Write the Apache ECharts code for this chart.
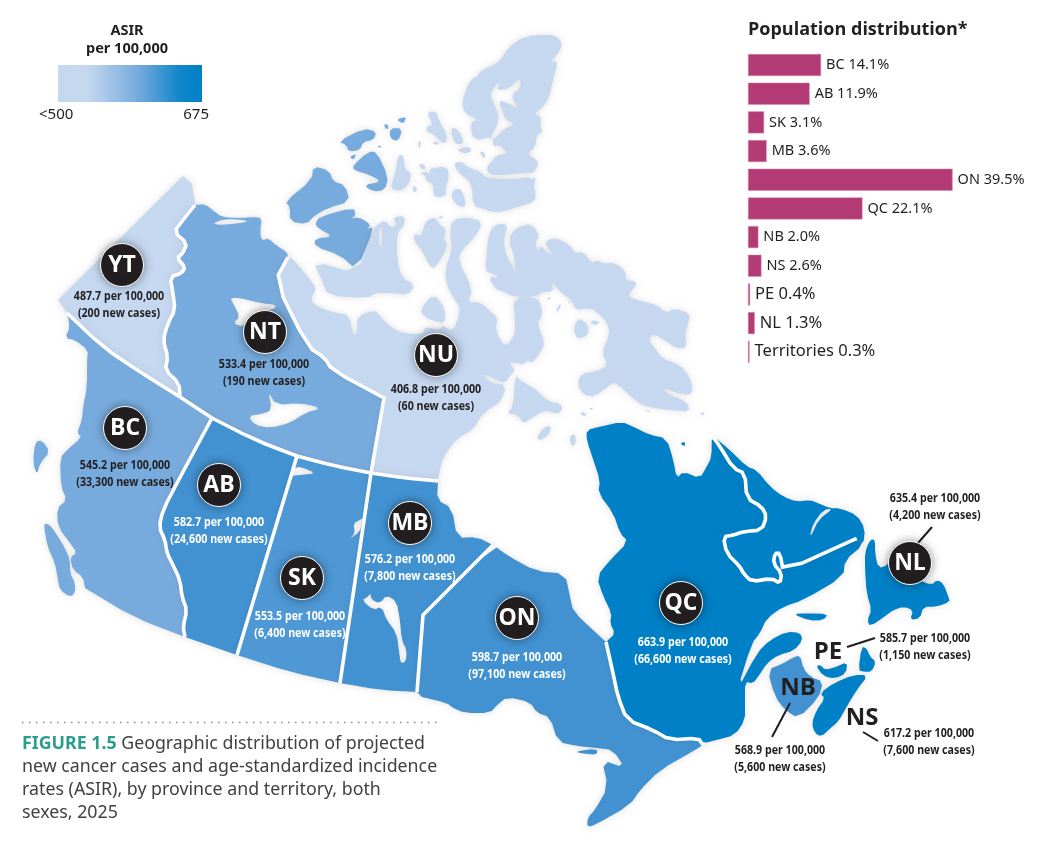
<!DOCTYPE html>
<html>
<head>
<meta charset="utf-8">
<title>Figure 1.5</title>
<style>html,body{margin:0;background:#fff}#chart{width:1046px;height:843px}</style>
<script src="https://cdn.jsdelivr.net/npm/echarts@6/dist/echarts.min.js"></script>
</head>
<body>
<div id="chart"></div>
<script>
// ── data ──
const provinces = ['YT','NT','NU','BC','AB','SK','MB','ON','QC','NB','NS','PE','NL'];
const asir = [487.7,533.4,406.8,545.2,582.7,553.5,576.2,598.7,663.9,568.9,617.2,585.7,635.4];
const newCases = ['200','190','60','33,300','24,600','6,400','7,800','97,100','66,600','5,600','7,600','1,150','4,200'];
const popNames = ['BC','AB','SK','MB','ON','QC','NB','NS','PE','NL','Territories'];
const popShare = [14.1,11.9,3.1,3.6,39.5,22.1,2.0,2.6,0.4,1.3,0.3];

// ── layout of the labels on the map (page pixels) ──
const badgeAt = {YT:[122,265],NT:[265,332],NU:[436,355],BC:[125,428],AB:[219,485],SK:[302,578],MB:[410,523],ON:[517,618],QC:[681,603],NL:[910,563]};
const plainAt = {PE:[828,652],NB:[798,688],NS:[862,718]};
const noteAt = {YT:[119,305],NT:[264,373],NU:[436,398],BC:[125,474],AB:[219,531],SK:[300,625],MB:[410,568],ON:[517,666],QC:[683,651],NB:[780,759],NS:[929,742],PE:[925,647],NL:[935,507]};
const whiteNotes = ['AB','SK','MB','ON','QC'];
const leaders = [[[932,527],[918,543]],[[875,638],[847,647]],[[790,703],[772,737]],[[863,732],[878,741]]];

// ── outline tracing: lists are page pixels, or 3x crop coordinates with an origin ──
function z(x0, y0, flat) {
    const out = [];
    for (let i = 0; i < flat.length; i += 2) out.push([x0 + flat[i] / 3, y0 + flat[i + 1] / 3]);
    return out;
}
const rev = a => a.slice().reverse();

const arc60 = [[67,313],[103,347],[137,370],[180,397],[212,418],[255,440],[297,456],[335,466],[371,473],[405,478],[438,481]];
const arc49 = [[85,588],[133,617],[185,637],[237,655],[290,672],[340,683],[380,690],[417,692]];
const ytNt = [[195,205],[183,220],[174,232],[187,243],[183,253],[177,258],[185,267],[182,273],[170,277],[173,293],[175,310],[168,323],[163,340],[168,357],[165,370],[179,383],[180,397]];
const ntNu = [[288,257],[275,281],[308,347],[325,358],[332,370],[384,398],[371,473]];
const bcAb = [[212,418],[177,483],[163,510],[159,527],[165,540],[167,553],[172,563],[180,580],[182,597],[187,610],[183,627],[185,637]];
const abSk = [[297,456],[237,655]];
const skMb = [[371,473],[340,683]];
const mbOn = [[493,545],[423,615],[417,692]];
const onQc = [[606,642],[613,673],[618,697],[627,720],[653,730],[670,740],[698,738],[703,745]];
const qcNl = z(570,410,[425,75,450,110,490,175,525,190,530,265,575,290,590,320,575,360,520,365,490,375,460,380,470,430,510,470,520,490,545,515,605,505,630,520,635,490,610,460,615,430,630,430,640,485,860,385,880,405]);

// junctions and tips that must stay sharp when outlines are softened
const hardPoints = new Set([[67,313],[180,397],[212,418],[297,456],[371,473],[438,481],[85,588],[185,637],[237,655],[340,683],[417,692],[422,697],[493,545],[606,642],[703,745],[288,257],[195,205],[183,176],[192,184],[58,300],[384,398],[423,615]].map(String));

const shapes = {
    YT: [[[[183,176],[192,184]].concat(ytNt, rev(arc60.slice(0,4)), [[58,300]])]],
    NT: [
        [[[288,257],[287,252],[277,246],[268,238],[262,241],[260,232],[262,218],[254,217],[240,218],[222,217],[215,212],[205,204]].concat(ytNt, arc60.slice(4,9), rev(ntNu).slice(1)),
            [[230,298],[240,298],[260,303],[277,305],[273,310],[260,310],[253,317],[243,327],[233,323],[240,317],[233,303]],
            [[268,391],[276,405],[300,403],[322,408],[305,413],[290,423],[270,428],[255,425],[248,416],[262,414],[272,410]],
            [[213,223],[225,219],[245,220],[248,222],[232,224],[218,225]]],
        [z(270,20,[130,438,178,452,190,485,225,495,240,545,170,565,130,590,110,612,60,605,60,560,45,545,125,480])],
        [z(270,20,[150,590,250,562,258,585,240,600,265,590,305,615,285,630,315,620,260,750,210,705,135,680,135,655,190,650,145,625,135,610])],
        [z(270,20,[205,365,280,325,320,335,310,360,280,365,270,390,235,395,230,375])],
        [z(270,20,[250,435,295,395,320,395,355,470,345,510,310,515,280,495,335,485,300,465,250,450])],
        [z(270,20,[238,410,265,400,250,420])],
        [z(270,20,[360,325,398,325,385,365,360,355])],
        [z(270,20,[378,298,410,290,400,312])],
        [z(270,20,[342,310,355,315,355,330,345,325])],
        [z(270,20,[320,376,337,378,330,385])]
    ],
    NU: [
        [z(260,230,[85,75,115,105,150,150,170,175,150,210,175,232,230,250,268,255,280,320,292,305,292,258,345,240,360,258,385,285,415,305,455,312,490,312,495,290,540,300,548,285,578,305,595,265,600,230,578,200,560,165]).concat(
            [[445,270],[452,250],[450,233],[452,220],[468,217],[483,222],[475,237],[462,250],[458,260],[473,290],[467,303],[480,302],[490,311],[498,318],[495,330],[505,348],[515,335],[515,320],[513,298],[537,297],[542,308],[542,317],[537,323],[545,343],[540,353],[532,363],[527,360],[523,365],[515,362],[509,363],[515,370],[512,373],[505,383],[497,380],[482,373],[490,383],[507,385],[500,403],[490,408],[480,417],[473,430],[457,438],[443,457],[438,478]],
            rev(arc60.slice(8,11)), rev(ntNu).slice(1,6))],
        // Victoria Island, east part
        [[[313,261],[358,274],[372,231],[377,225],[385,220],[391,228],[397,225],[393,217],[405,216],[404,226],[397,232],[397,260],[402,278],[415,285],[408,295],[392,293],[375,293],[368,298],[328,296],[322,280]],
            [[379,228],[382,228],[382,247],[379,247]]],
        [z(260,230,[480,240,520,190,555,235,555,280,530,275,495,262])],
        [z(480,220,[105,465,120,480,135,490,170,510,205,545,240,550,248,570,230,583,195,570,160,590,130,612,115,585,80,580,100,560])],
        [z(480,220,[40,15,85,10,70,60,80,110,100,140,105,165,105,115,85,60,105,25,155,10,180,50,165,65,175,100,180,75,205,100,220,105,200,80,195,65,225,52,270,75,285,100,310,95,335,130,355,120,365,130,410,130,440,160,435,180,470,185,465,200,440,230,490,245,530,255,560,280,580,265,630,280,625,310,615,340,620,385,590,385,560,365,520,340,505,360,525,385,545,415,600,435,630,470,640,520,610,525,540,500,570,525,620,545,630,575,570,570,500,560,470,545,410,490,395,490,345,530,310,525,292,490,305,460,350,455,385,435,365,400,390,340,380,305,345,270,320,265,300,270,285,265,275,240,245,220,225,195,215,190,220,215,190,215,165,230,100,230,70,215,45,205,25,170,60,175,40,160,15,155,20,100,25,50])],
        [z(480,220,[170,650,195,620,215,618,205,645,180,662])],
        [z(480,220,[268,650,285,640,288,670,275,682])],
        [z(480,220,[300,575,320,580,315,590,305,585])],
        [z(480,220,[325,560,342,565,335,572])],
        [z(480,220,[495,570,515,572,505,578])],
        [z(480,220,[655,580,670,575,673,587])],
        [z(480,220,[300,295,325,315,325,345,295,358,282,335,285,310])],
        [z(480,220,[335,300,360,305,350,315,332,312])],
        [z(480,220,[228,272,240,250,243,260,232,275])],
        [z(480,220,[198,235,215,230,210,240])],
        [z(480,220,[262,240,272,245,270,255])],
        // Ellesmere and the high Arctic
        [z(270,20,[760,50,840,42,872,58,875,88,838,130,865,120,848,185,835,240,810,270,792,280,815,292,810,320,820,335,800,345,795,385,770,400,800,420,805,435,790,460,770,458,700,465,660,465,648,445,665,425,680,405,715,402,690,375,670,380,668,350,610,362,600,310,625,298,585,282,575,245,600,180,622,170,632,152,690,125,712,85]),
            z(270,20,[680,190,690,190,680,212,720,205,750,172,752,205,722,225,745,268,715,250,685,240,700,280,705,298,735,312,705,325,670,360,660,355,690,300,672,250,660,225])],
        [z(270,20,[552,432,570,423,600,445,630,455,650,475,720,478,790,470,792,505,797,515,795,545,745,560,700,575,660,575,640,565,610,560,605,490,580,470,560,450])],
        [z(270,20,[470,275,500,275,505,300,530,340,530,370,510,365,495,345,470,335,470,320,490,315])],
        [z(270,20,[545,320,565,330,582,365,575,372,555,372,545,345])],
        [z(270,20,[565,385,600,380,605,395,585,400,565,395])],
        [z(270,20,[628,395,640,395,648,412,640,415])],
        [z(270,20,[445,365,453,362,450,385,445,385])],
        [z(270,20,[490,365,505,365,505,375,490,372])],
        [z(270,20,[548,510,575,505,590,560,565,560,545,535])],
        [z(270,20,[448,430,465,435,465,450,450,445])],
        [z(270,20,[480,445,500,445,510,440,535,445,535,480,525,510,530,525,505,533,490,525,490,490,470,485,465,465,445,458,470,455,480,465])],
        [z(270,20,[385,405,400,405,405,450,425,460,415,495,390,515,360,505,375,465])],
        [z(270,20,[428,498,440,500,440,515,428,515])],
        [z(270,20,[435,640,455,650,465,605,495,590,505,610,530,630,520,650,535,680,495,745,480,740,455,690,430,660])],
        [z(270,20,[500,590,520,587,515,597])],
        [z(270,20,[790,470,796,472,796,488,788,488])]
    ],
    BC: [
        [bcAb.concat(rev(arc49.slice(0,2)), [[83,577],[73,570],[70,557],[77,553],[70,543],[58,527],[57,508],[67,500],[61,487],[60,458],[67,450],[82,437],[77,433],[82,420],[83,407],[87,387],[87,360],[88,350],[75,340],[65,338],[70,327]], arc60.slice(0,4))],
        [[[35,442],[42,440],[50,452],[40,463],[37,475],[33,463]]],
        [[[44,523],[50,525],[57,535],[65,548],[70,560],[70,573],[75,583],[75,593],[70,597],[60,590],[58,580],[55,563],[48,548],[45,533]]]
    ],
    AB: [[arc60.slice(4,7).concat(abSk.slice(1), rev(bcAb).slice(0,-1))]],
    SK: [[arc60.slice(6,9).concat([[340,683]], rev(arc49.slice(3,5))),
        z(280,440,[250,232,240,240,220,250,225,280,207,298,240,275,245,250]),
        z(280,440,[30,100,40,85,60,80,110,100,60,105,35,108])]],
    MB: [[arc60.slice(8,11).concat([[437,500],[452,508],[457,538],[477,537]], mbOn, rev(arc49.slice(5,7))),
        z(280,440,[270,455,275,480,300,490,320,465,350,485,360,540,365,600,380,630,378,665,362,670,358,640,350,580,320,540,305,500,280,510,245,480,265,470])]],
    ON: [
        [z(280,440,[640,315,680,345,770,395,855,400,870,470,880,515,950,580]).concat(onQc,
            [[690,753],[660,770],[640,790],[630,805],[595,825],[587,827],[588,817],[595,810],[608,787],[602,760],[625,768],[613,750],[597,748],[577,746],[558,742],[550,717],[537,713],[530,702],[507,697],[497,705],[490,713],[465,713],[453,708],[447,703],[422,697]],
            rev(mbOn).slice(0,2))],
        [z(280,440,[885,935,950,925,952,945,905,940])]
    ],
    QC: [
        [z(570,410,[115,690,135,670,120,640,125,610,100,560,80,500,120,450,175,395,150,370,130,310,85,250,90,210,70,150,50,90,50,60,90,50,155,35,190,50,240,75,290,85,310,150,320,205,340,185,390,205,410,170,425,140]).concat(
            qcNl,
            z(570,410,[825,450,820,500,700,570,640,590,590,625,570,670,545,700,500,845,560,730,600,690,650,665,690,668,698,690,672,722,625,735,590,760,565,800,548,820,525,815,525,880,525,930,495,975,440,990,400,1000]),
            rev(onQc).slice(1)),
            z(570,410,[330,100,345,95,345,110])],
        [z(720,610,[218,12,260,10,325,12,310,30,270,32])]
    ],
    NB: [[z(720,610,[142,180,190,160,215,145,240,135,250,175,270,200,310,215,295,265,235,325,195,300,165,260])]],
    NS: [
        [z(720,610,[300,250,340,220,400,195,445,195,410,240,380,290,355,335,330,355,305,380,285,370,275,340,290,300,315,265])],
        [z(720,610,[415,180,425,110,440,115,450,140,468,155,455,185,430,185])]
    ],
    PE: [[z(720,610,[288,168,302,165,315,180,345,172,382,156,378,190,345,206,310,198])]],
    NL: [
        [rev(qcNl).slice(2).concat(z(570,410,[480,120,530,170,560,180,600,230,640,260,680,275,720,270,745,280,780,295,810,295,860,315,885,355,880,405]), [qcNl[qcNl.length - 2]]),
            z(570,410,[720,375,730,340,760,300,790,295,745,330,725,375]),
            z(570,410,[612,435,625,425,636,435,636,478,622,482,612,460])],
        [z(570,410,[885,425,900,390,915,388,915,430,925,475,955,465,965,430,1040,420,1045,510,1085,525,1100,510,1120,520,1135,560,1140,575,1100,590,1060,590,1050,625,1020,630,1030,600,1000,590,970,600,950,615,900,650,892,630,905,600,890,550,885,480])]
    ]
};

// one pass of corner cutting so the traced outlines read as coastline
function soften(r, closed) {
    const out = [];
    const n = r.length;
    for (let i = 0; i < n; i++) {
        const p = r[i];
        const isEnd = !closed && (i === 0 || i === n - 1);
        if (isEnd || hardPoints.has(String(p))) {
            out.push(p);
            continue;
        }
        const a = r[(i - 1 + n) % n], b = r[(i + 1) % n];
        out.push([p[0] * 0.75 + a[0] * 0.25, p[1] * 0.75 + a[1] * 0.25]);
        out.push([p[0] * 0.75 + b[0] * 0.25, p[1] * 0.75 + b[1] * 0.25]);
    }
    return out;
}

// ring direction matters for holes: outer one way, holes the other
function signedArea(r) {
    let s = 0;
    for (let i = 0; i < r.length; i++) {
        const a = r[i], b = r[(i + 1) % r.length];
        s += a[0] * b[1] - b[0] * a[1];
    }
    return s;
}
const flip = p => [p[0], -p[1]];
function ring(r, wantPositive) {
    const pts = (signedArea(r) > 0) === wantPositive ? r : rev(r);
    const closed = soften(pts, true).map(flip);
    closed.push(closed[0]);
    return closed;
}

const canada = {
    type: 'FeatureCollection',
    features: provinces.map(name => ({
        type: 'Feature',
        properties: { name: name },
        geometry: {
            type: 'MultiPolygon',
            coordinates: shapes[name].map(poly => poly.map((r, i) => ring(r, i === 0)))
        }
    }))
};
echarts.registerMap('canada', canada);

const borderLines = [arc60, ytNt, ntNu, bcAb, abSk, skMb, mbOn, onQc, qcNl.slice(0, -1)];
const FONT_MAIN = '"Noto Sans", sans-serif';
const INK = '#231f20';

const chart = echarts.init(document.getElementById('chart'), null, { renderer: 'canvas' });

// the source's narrow type is not installed, so the per-100,000 notes are squeezed
const noteTexts = provinces.map((p, i) => ({
    type: 'text',
    x: noteAt[p][0],
    y: noteAt[p][1],
    scaleX: 0.82,
    z: 20,
    style: {
        text: asir[i].toFixed(1) + ' per 100,000\n(' + newCases[i] + ' new cases)',
        font: '700 13px ' + FONT_MAIN,
        lineHeight: 17.5,
        fill: whiteNotes.includes(p) ? '#fff' : INK,
        align: 'center',
        verticalAlign: 'middle'
    }
}));

chart.setOption({
    animation: false,
    backgroundColor: '#fff',
    visualMap: {
        show: false,
        type: 'piecewise',
        seriesIndex: 0,
        pieces: [
            { value: 585.7, color: '#0080c6' },
            { lt: 500, color: '#c5d8f0' },
            { gte: 500, lt: 550, color: '#78abdd' },
            { gte: 550, lt: 560, color: '#4e98d5' },
            { gte: 560, lt: 610, color: '#4292d2' },
            { gte: 610, color: '#0080c6' }
        ]
    },
    geo: {
        map: 'canada',
        roam: false,
        silent: true,
        aspectScale: 1,
        left: 0, top: 0, width: 1046, height: 843,
        boundingCoords: [[0, 0], [1046, -843]],
        label: { show: false },
        itemStyle: { areaColor: '#c5d8f0', borderWidth: 0, shadowBlur: 7, shadowColor: 'rgba(0,0,0,0.13)' },
        emphasis: { disabled: true }
    },
    grid: { left: 748, top: 50.7, width: 207.2, height: 315.4 },
    xAxis: { type: 'value', min: 0, max: 40, show: false },
    yAxis: { type: 'category', data: popNames, inverse: true, show: false },
    series: [
        {
            type: 'map',
            geoIndex: 0,
            data: provinces.map((p, i) => ({ name: p, value: asir[i] }))
        },
        {
            type: 'lines',
            coordinateSystem: 'geo',
            polyline: true,
            silent: true,
            symbol: 'none',
            lineStyle: { color: '#fff', width: 3.6, opacity: 1 },
            data: borderLines.map(b => ({ coords: soften(b, false).map(flip) }))
        },
        {
            type: 'lines',
            coordinateSystem: 'geo',
            silent: true,
            symbol: 'none',
            lineStyle: { color: INK, width: 2, opacity: 1 },
            data: leaders.map(l => ({ coords: l.map(flip) }))
        },
        {
            type: 'scatter',
            coordinateSystem: 'geo',
            silent: true,
            symbol: 'circle',
            symbolSize: 43,
            itemStyle: { color: INK, borderColor: '#fff', borderWidth: 1, shadowBlur: 10, shadowColor: 'rgba(0,0,0,0.4)', opacity: 1 },
            label: { show: true, position: 'inside', formatter: '{b}', color: '#fff', fontFamily: '"Open Sans", sans-serif', fontWeight: 700, fontSize: 23 },
            data: Object.keys(badgeAt).map(k => ({ name: k, value: flip(badgeAt[k]) }))
        },
        {
            type: 'scatter',
            coordinateSystem: 'geo',
            silent: true,
            symbolSize: 1,
            itemStyle: { opacity: 1, color: 'rgba(0,0,0,0)' },
            label: { show: true, position: 'inside', formatter: '{b}', color: INK, fontFamily: '"Open Sans", sans-serif', fontWeight: 700, fontSize: 24 },
            data: Object.keys(plainAt).map(k => ({ name: k, value: flip(plainAt[k]) }))
        },
        {
            type: 'bar',
            data: popShare.map((v, i) => ({
                value: v,
                label: { fontSize: i >= 8 ? 16.5 : 14.5 }
            })),
            barWidth: 22,
            itemStyle: { color: '#b33b75', borderColor: '#d98bb0', borderWidth: 0.5 },
            label: {
                show: true,
                position: 'right',
                distance: 5,
                color: INK,
                fontFamily: FONT_MAIN,
                formatter: p => p.name + ' ' + p.value.toFixed(1) + '%'
            }
        }
    ],
    graphic: noteTexts.concat([
        { type: 'text', x: 127, y: 31, style: { text: 'ASIR', font: '700 14.5px ' + FONT_MAIN, fill: INK, align: 'center', verticalAlign: 'middle' } },
        { type: 'text', x: 127, y: 49, style: { text: 'per 100,000', font: '700 14.5px ' + FONT_MAIN, fill: INK, align: 'center', verticalAlign: 'middle' } },
        {
            type: 'rect',
            shape: { x: 58, y: 65, width: 144, height: 37 },
            style: {
                fill: new echarts.graphic.LinearGradient(0, 0, 1, 0, [
                    { offset: 0, color: '#c5d8f0' },
                    { offset: 0.2, color: '#c5d8f0' },
                    { offset: 0.55, color: '#78abdd' },
                    { offset: 0.85, color: '#0f86ca' },
                    { offset: 1, color: '#0080c6' }
                ])
            }
        },
        { type: 'text', x: 39, y: 115, style: { text: '<500', font: '15px ' + FONT_MAIN, fill: INK, align: 'left', verticalAlign: 'middle' } },
        { type: 'text', x: 209, y: 115, style: { text: '675', font: '15px ' + FONT_MAIN, fill: INK, align: 'right', verticalAlign: 'middle' } },
        { type: 'text', x: 748, y: 30, style: { text: 'Population distribution*', font: '700 18px "Open Sans", sans-serif', fill: INK, align: 'left', verticalAlign: 'middle' } },
        { type: 'line', shape: { x1: 22, y1: 722.5, x2: 438, y2: 722.5 }, style: { stroke: '#8a8a8a', lineWidth: 1.5, lineDash: [1.5, 5.5] } },
        {
            type: 'text', x: 22, y: 732,
            style: {
                text: '{fig|FIGURE 1.5} Geographic distribution of projected\nnew cancer cases and age-standardized incidence\nrates (ASIR), by province and territory, both\nsexes, 2025',
                font: '17.8px ' + FONT_MAIN, fill: '#414042', lineHeight: 23,
                rich: { fig: { font: '700 17.8px ' + FONT_MAIN, fill: '#2a9d8f', lineHeight: 23 } }
            }
        }
    ])
});

window.addEventListener('resize', () => chart.resize());
</script>
</body>
</html>
